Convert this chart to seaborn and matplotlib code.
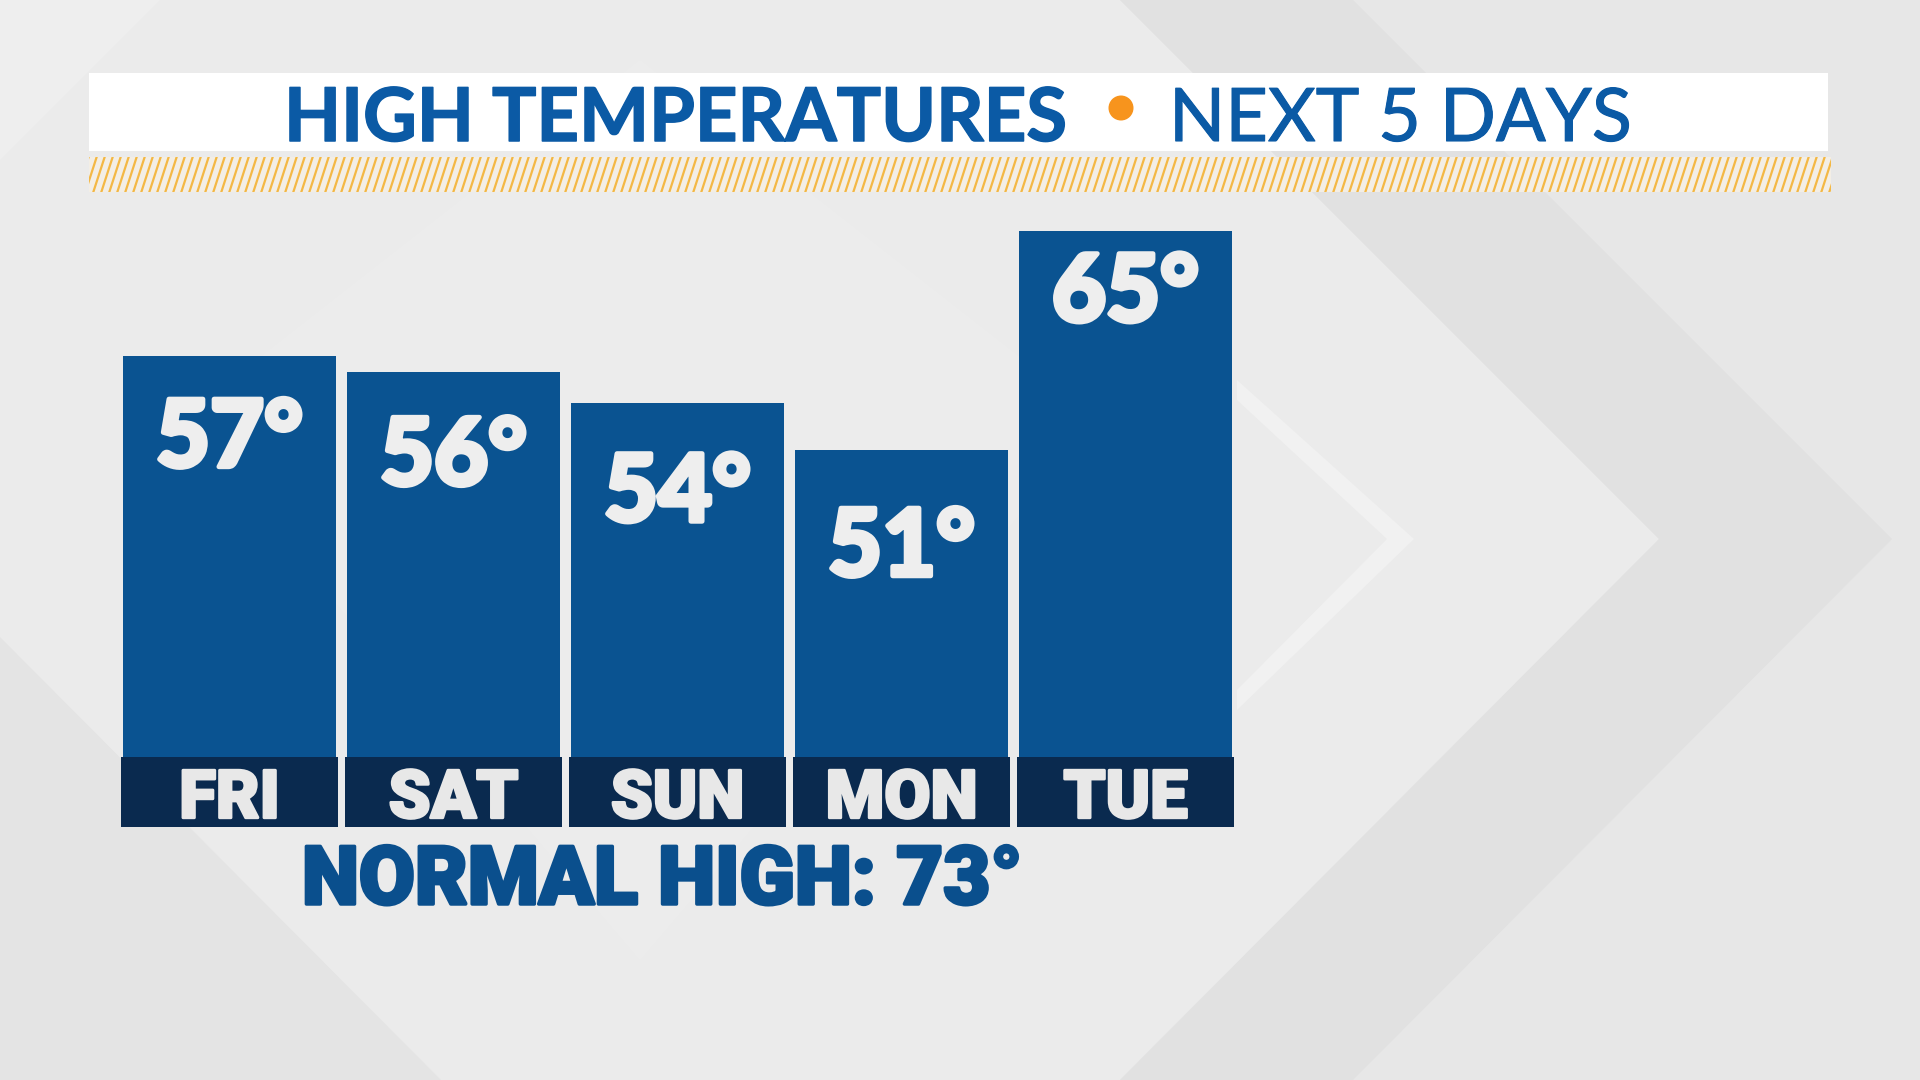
import matplotlib
matplotlib.use("Agg")
import matplotlib.pyplot as plt
from matplotlib.patches import Rectangle, Polygon, Circle
from matplotlib.collections import LineCollection
from matplotlib import font_manager as fm
import matplotlib.patheffects as pe
import seaborn as sns
import pandas as pd

# ---------------- data ----------------
days = ["FRI", "SAT", "SUN", "MON", "TUE"]
highs = [57, 56, 54, 51, 65]
title_bold = "HIGH TEMPERATURES"
title_light = "NEXT 5 DAYS"
normal_label = "NORMAL HIGH: 73°"

# ---------------- style ----------------
W, H = 1920, 1080
BAR_BLUE = "#0A5391"
NAVY = "#0A2A4F"
TITLE_BLUE = "#0B5AA5"
NORMAL_BLUE = "#0A4F8D"
ORANGE = "#F7941D"
STRIPE = "#F3B845"
LABEL_WHITE = "#EEEEEE"

sns.set_theme(style="white")
plt.rcParams['font.family'] = ['Lato', 'DejaVu Sans']


def _w(f):
    w = f.weight
    if isinstance(w, str):
        w = fm.weight_dict.get(w, 400)
    return w


def pick(cands):
    for fam, wt in cands:
        for f in fm.fontManager.ttflist:
            if f.name == fam and f.style == "normal" and _w(f) >= wt and f.stretch in ("normal", 500):
                return fam, wt
    return "DejaVu Sans", 700


VAL_FAM, VAL_WT = pick([("Montserrat", 900), ("Lato", 900), ("Roboto", 900), ("Open Sans", 800),
                        ("Noto Sans", 900), ("Lato", 700), ("DejaVu Sans", 700)])
TTL_FAM, TTL_WT = pick([("Montserrat", 700), ("Lato", 700), ("Open Sans", 700), ("Roboto", 700),
                        ("DejaVu Sans", 700)])
DAY_FAM, DAY_WT = pick([("Roboto", 900), ("Lato", 900), ("Liberation Sans", 700), ("DejaVu Sans", 700)])

fig = plt.figure(figsize=(19.2, 10.8), dpi=100)

# background layer in pixel units
bg = fig.add_axes([0, 0, 1, 1])
bg.set_xlim(0, W)
bg.set_ylim(H, 0)
bg.axis('off')
bg.add_patch(Rectangle((0, 0), W, H, color="#E7E7E7", zorder=0))
# subtle chevrons
bg.add_patch(Polygon([(0, 0), (1120, 0), (1659, 539), (1120, 1080), (0, 1080)],
                     color="#EBEBEB", zorder=0.1, lw=0))
bg.add_patch(Polygon([(1120, 0), (1353, 0), (1892, 539), (1353, 1080), (1120, 1080), (1659, 539)],
                     color="#E1E1E1", zorder=0.1, lw=0))
bg.add_patch(Polygon([(1237, 380), (1414, 539), (1237, 710), (1237, 690), (1387, 539), (1237, 400)],
                     color="#F1F1F1", zorder=0.15, lw=0))
bg.add_patch(Polygon([(0, 637), (441, 1080), (0, 1080)], color="#E4E4E4", zorder=0.12, lw=0))
bg.add_patch(Polygon([(0, 0), (160, 0), (0, 160)], color="#EEEEEE", zorder=0.12, lw=0))
bg.add_patch(Polygon([(640, 60), (1100, 420), (640, 960), (180, 420)], color="#EEEEEE",
                     zorder=0.13, lw=0, alpha=0.5))

# title box
bg.add_patch(Rectangle((89, 73), 1739, 78, color="white", zorder=2, lw=0))
# hatched strip
strip = Rectangle((89, 157), 1742, 35, facecolor="#F3EEE5", edgecolor="none", zorder=2)
bg.add_patch(strip)
segs = []
x = 69
while x < 1851:
    segs.append([(x, 193), (x + 12, 156)])
    x += 8
lc = LineCollection(segs, colors=STRIPE, linewidths=1.6, zorder=3)
bg.add_collection(lc)
lc.set_clip_path(strip)
# orange dot
bg.add_patch(Circle((1121, 108), 12.5, color=ORANGE, zorder=3, lw=0))

t1 = bg.text(284, 141, title_bold, fontsize=50, family=[TTL_FAM, "DejaVu Sans"], fontweight=TTL_WT,
             color=TITLE_BLUE, ha="left", va="baseline", zorder=4)
t2 = bg.text(1169, 141, title_light, fontsize=50, fontweight="normal", color=TITLE_BLUE,
             family=[TTL_FAM, "DejaVu Sans"], ha="left", va="baseline", zorder=4)

# ---------------- bars ----------------
YMIN, YMAX = 26.83, 67.01
BOX_TOP = 31.33
BAR_W = 0.955
ax = fig.add_axes([117.5 / W, (H - 827) / H, 1120 / W, 627 / H])
df = pd.DataFrame({"day": days, "high": highs})
sns.barplot(data=df, x="day", y="high", ax=ax, color=BAR_BLUE, saturation=1,
            width=BAR_W, linewidth=0, zorder=2)
ax.set_xlim(-0.5, 4.5)
ax.set_ylim(YMIN, YMAX)
ax.axis("off")

value_texts = []
day_texts = []
for i, (d, v) in enumerate(zip(days, highs)):
    ax.add_patch(Rectangle((i - 0.4825, YMIN), 0.965, BOX_TOP - YMIN, color=NAVY,
                           zorder=3, lw=0, clip_on=False))
    y_lab = v - 7.15 + 0.165 * (v - 56.6)
    value_texts.append(ax.text(i, y_lab, f"{v}°", fontsize=70, fontweight=VAL_WT,
                               family=[VAL_FAM, "DejaVu Sans"], color=LABEL_WHITE,
                               ha="center", va="baseline", zorder=5))
    day_texts.append(ax.text(i, 27.42, d, fontsize=44, fontweight=DAY_WT,
                             family=[DAY_FAM, "DejaVu Sans"], color="#E8E8E8",
                             ha="center", va="baseline", zorder=5))

tn = bg.text(302, 904, normal_label, fontsize=58, fontweight=DAY_WT,
             family=[DAY_FAM, "DejaVu Sans"], color=NORMAL_BLUE,
             ha="left", va="baseline", zorder=4)

# fit text widths to the reference layout
fig.canvas.draw()
r = fig.canvas.get_renderer()


def fit(t, target):
    w = t.get_window_extent(r).width
    t.set_fontsize(t.get_fontsize() * target / w)


fit(t1, 784)
t1.set_path_effects([pe.withStroke(linewidth=1.1, foreground=TITLE_BLUE)])
fit(t2, 463)
t2.set_path_effects([pe.withStroke(linewidth=0.8, foreground=TITLE_BLUE)])
fit(tn, 720)
tn.set_path_effects([pe.withStroke(linewidth=2.5, foreground=NORMAL_BLUE)])
fit(value_texts[0], 147)
for t in value_texts:
    t.set_fontsize(value_texts[0].get_fontsize())
    t.set_path_effects([pe.withStroke(linewidth=3.5, foreground=LABEL_WHITE)])
fit(day_texts[3], 152)
for t in day_texts:
    t.set_fontsize(day_texts[3].get_fontsize())
    t.set_path_effects([pe.withStroke(linewidth=2.0, foreground="#E8E8E8")])

fig.savefig("out.png", dpi=100)
